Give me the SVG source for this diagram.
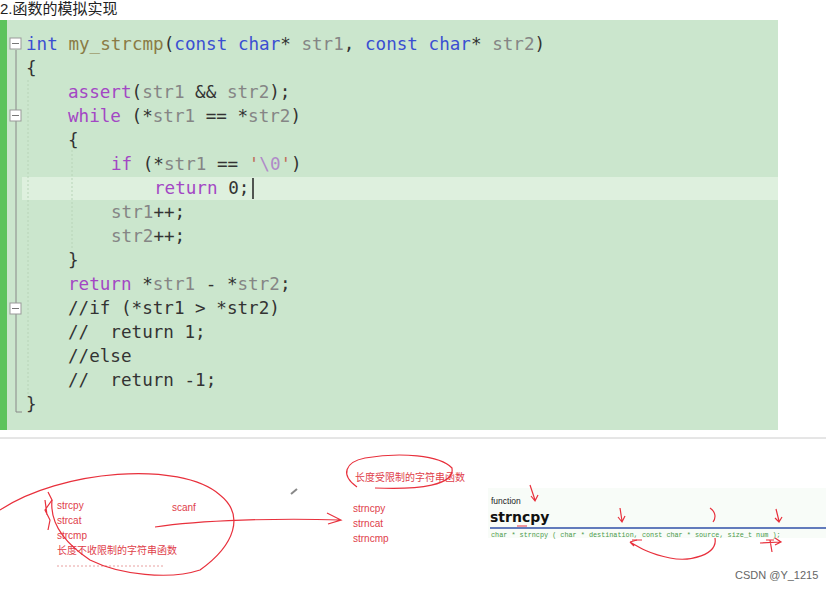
<svg xmlns="http://www.w3.org/2000/svg" width="836" height="590" viewBox="0 0 836 590">
<style>
.c{font-family:"DejaVu Sans Mono",monospace;font-size:17.6px;fill:#333;white-space:pre}
.k{fill:#3a4fd2}.p{fill:#a347c4}.g{fill:#858585}.f{fill:#8a7b45}.s{fill:#c0705a}
.r{font-family:"Liberation Sans","Noto Sans CJK SC",sans-serif;font-size:10px;fill:#e0404a}
.h{fill:none;stroke:#e8303c;stroke-width:1.2}
.box{fill:#fff;stroke:#999;stroke-width:1}
</style>
<rect width="836" height="590" fill="#fff"/>
<text x="0" y="14" font-family="Liberation Sans,'Noto Sans CJK SC',sans-serif" font-size="15" fill="#222">2.函数的模拟实现</text>
<g id="code">
<rect x="0" y="20" width="778" height="410" fill="#cbe6cd"/>
<rect x="0" y="20" width="7" height="410" fill="#5cc35c"/>
<rect x="22" y="177" width="756" height="23" fill="#def0de"/>
<line x1="16" y1="50" x2="16" y2="412" stroke="#888"/>
<rect x="10" y="38" width="11" height="11" class="box"/><line x1="12" y1="43.5" x2="19" y2="43.5" stroke="#777"/>
<rect x="10" y="110" width="11" height="11" class="box"/><line x1="12" y1="115.5" x2="19" y2="115.5" stroke="#777"/>
<rect x="10" y="303" width="11" height="11" class="box"/><line x1="12" y1="308.5" x2="19" y2="308.5" stroke="#777"/>
<line x1="16" y1="412" x2="22" y2="412" stroke="#888"/>
<g stroke="#b8d4b8" stroke-dasharray="2,2"><line x1="28" y1="80" x2="28" y2="400"/><line x1="72" y1="150" x2="72" y2="250"/></g>
<text class="c" y="50"><tspan x="26" class="k">int</tspan> <tspan class="f">my_strcmp</tspan>(<tspan class="k">const</tspan> <tspan class="k">char</tspan>* <tspan class="g">str1</tspan>, <tspan class="k">const</tspan> <tspan class="k">char</tspan>* <tspan class="g">str2</tspan>)</text>
<text class="c" x="26" y="74">{</text>
<text class="c" x="68" y="98"><tspan class="p">assert</tspan>(<tspan class="g">str1</tspan> &amp;&amp; <tspan class="g">str2</tspan>);</text>
<text class="c" x="68" y="122"><tspan class="p">while</tspan> (*<tspan class="g">str1</tspan> == *<tspan class="g">str2</tspan>)</text>
<text class="c" x="68" y="146">{</text>
<text class="c" x="111" y="170"><tspan class="p">if</tspan> (*<tspan class="g">str1</tspan> == <tspan class="s">'</tspan><tspan fill="#b08ac8">\0</tspan><tspan class="s">'</tspan>)</text>
<text class="c" x="154" y="194"><tspan class="p">return</tspan> 0;</text>
<line x1="253" y1="178" x2="253" y2="199" stroke="#222" stroke-width="1.5"/>
<text class="c" x="111" y="218"><tspan class="g">str1</tspan>++;</text>
<text class="c" x="111" y="242"><tspan class="g">str2</tspan>++;</text>
<text class="c" x="68" y="266">}</text>
<text class="c" x="68" y="290"><tspan class="p">return</tspan> *<tspan class="g">str1</tspan> - *<tspan class="g">str2</tspan>;</text>
<text class="c" x="68" y="314" fill="#3c553c">//if (*str1 &gt; *str2)</text>
<text class="c" x="68" y="338" fill="#3c553c">//  return 1;</text>
<text class="c" x="68" y="362" fill="#3c553c">//else</text>
<text class="c" x="68" y="386" fill="#3c553c">//  return -1;</text>
<text class="c" x="26" y="410">}</text>
</g>
<line x1="0" y1="438" x2="826" y2="438" stroke="#ccc"/>
<g id="notes">
<text class="r" x="57" y="509">strcpy</text>
<text class="r" x="57" y="524">strcat</text>
<text class="r" x="57" y="539">strcmp</text>
<text class="r" x="57" y="554">长度不收限制的字符串函数</text>
<line x1="57" y1="566" x2="165" y2="566" stroke="#e8a0a0" stroke-dasharray="2,2"/>
<text class="r" x="172" y="511">scanf</text>
<text class="r" x="353" y="512">strncpy</text>
<text class="r" x="353" y="527">strncat</text>
<text class="r" x="353" y="542">strncmp</text>
<text class="r" x="355" y="481">长度受限制的字符串函数</text>
<path class="h" d="M0,510 C60,470 180,460 220,495 C245,515 235,545 200,570 C170,580 120,575 90,560 C60,540 50,520 52,500"/>
<path class="h" d="M48,492 L52,500 L45,510 L50,520 L48,530 M45,500 L47,515"/>
<path class="h" d="M155,527 C200,520 280,518 340,520 M327,513 L341,520 L328,524"/>
<path class="h" d="M357,487 C340,475 345,462 365,458 C400,452 440,455 452,468 C455,485 420,490 375,488"/>
<path d="M291,494 L297,489" stroke="#888" stroke-width="2"/>
</g>
<g id="doc">
<rect x="488" y="488" width="338" height="50" fill="#f4faf4" opacity="0.6"/>
<text x="491" y="504" font-family="Liberation Sans,sans-serif" font-size="8.5" fill="#222">function</text>
<text x="490" y="522" font-family="'DejaVu Sans',sans-serif" font-weight="bold" font-size="14" fill="#111">strncpy</text>
<line x1="490" y1="528" x2="826" y2="528" stroke="#3050a8" stroke-width="1.5"/>
<text x="491" y="537" font-family="'Liberation Mono',monospace" font-size="6.8" fill="#4a9a4a">char * strncpy ( char * destination, const char * source, size_t num );</text>
<path class="h" d="M530,485 L535,500 M531,496 L535,501 L538,495"/>
<path class="h" d="M620,508 L622,521 M618,517 L622,522 L625,516"/>
<path class="h" d="M710,508 C716,512 716,518 713,522"/>
<path class="h" d="M776,509 L779,521 M775,518 L779,522 L782,517"/>
<path class="h" d="M715,538 C718,555 690,562 670,558 C650,554 640,548 630,542 M630,542 L637,540 M630,542 L634,546"/>
<path class="h" d="M760,543 L781,542 M775,538 L781,542 L775,545 M770,540 L772,552"/>
<path class="h" d="M517,526 L527,526 M632,540 L642,540 M766,540 L774,540"/>
</g>
<text x="735" y="579" font-family="Liberation Sans,sans-serif" font-size="11" fill="#666">CSDN @Y_1215</text>
</svg>
